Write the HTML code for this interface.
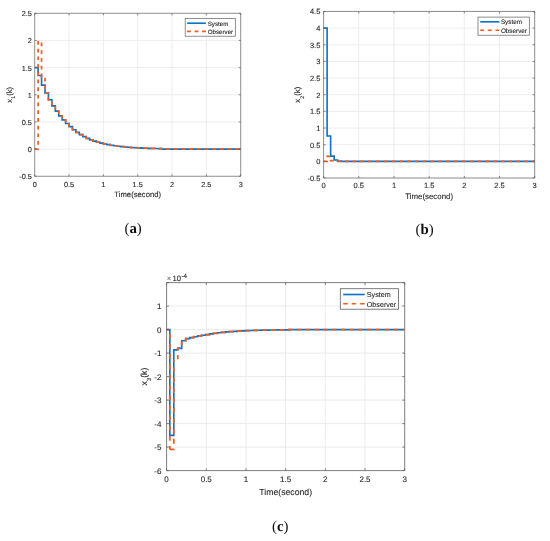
<!DOCTYPE html>
<html><head><meta charset="utf-8"><title>Figure</title>
<style>html,body{margin:0;padding:0;background:#fff}svg{display:block}.sans text{stroke:#262626;stroke-width:0.1px;paint-order:stroke}</style>
</head><body>
<svg width="550" height="541" viewBox="0 0 550 541" font-family="'Liberation Sans', sans-serif" text-rendering="geometricPrecision">
<defs><filter id="bl" x="0" y="0" width="550" height="541" filterUnits="userSpaceOnUse"><feGaussianBlur stdDeviation="0.4"/></filter></defs>
<rect width="550" height="541" fill="#fff"/>
<g filter="url(#bl)">
<g class="sans">
<path d="M69.03 13.3V176.25M103.37 13.3V176.25M137.7 13.3V176.25M172.03 13.3V176.25M206.37 13.3V176.25M34.7 149.09H240.7M34.7 121.93H240.7M34.7 94.78H240.7M34.7 67.62H240.7M34.7 40.46H240.7" stroke="#e9e9e9" stroke-width="0.8" fill="none"/>
<clipPath id="c34"><rect x="33.7" y="13.3" width="208" height="162.95"/></clipPath>
<g clip-path="url(#c34)" fill="none" stroke-linejoin="miter">
<path d="M34.7 67.62H38.13V75.49H41.57V85.16H45V92.87H48.43V99.79H51.87V105.85H55.3V111.17H58.73V115.84H62.17V119.93H65.6V123.51H69.03V126.66H72.47V129.73H75.9V132.38H79.33V134.67H82.77V136.65H86.2V138.35H89.63V139.82H93.07V141.09H96.5V142.19H99.93V143.14H103.37V143.95H106.8V144.66H110.23V145.26H113.67V145.79H117.1V146.24H120.53V146.63H123.97V146.97H127.4V147.26H130.83V147.51H134.27V147.73H137.7V147.91H141.13V148.08H144.57V148.21H148V148.33H151.43V148.44H154.87V148.53H158.3V148.61H161.73V149.09H165.17V149.09H168.6V149.09H172.03V149.09H175.47V149.09H178.9V149.09H182.33V149.09H185.77V149.09H189.2V149.09H192.63V149.09H196.07V149.09H199.5V149.09H202.93V149.09H206.37V149.09H209.8V149.09H213.23V149.09H216.67V149.09H220.1V149.09H223.53V149.09H226.97V149.09H230.4V149.09H233.83V149.09H237.27V149.09H240.7V149.09" stroke="#0873C4" stroke-width="1.62"/>
<path d="M34.7 149.09H38.13V41.54H41.57V76.85H45V92.87H48.43V99.79H51.87V105.85H55.3V111.17H58.73V115.84H62.17V119.93H65.6V123.51H69.03V126.66H72.47V129.73H75.9V132.38H79.33V134.67H82.77V136.65H86.2V138.35H89.63V139.82H93.07V141.09H96.5V142.19H99.93V143.14H103.37V143.95H106.8V144.66H110.23V145.26H113.67V145.79H117.1V146.24H120.53V146.63H123.97V146.97H127.4V147.26H130.83V147.51H134.27V147.73H137.7V147.91H141.13V148.08H144.57V148.21H148V148.33H151.43V148.44H154.87V148.53H158.3V148.61H161.73V149.09H165.17V149.09H168.6V149.09H172.03V149.09H175.47V149.09H178.9V149.09H182.33V149.09H185.77V149.09H189.2V149.09H192.63V149.09H196.07V149.09H199.5V149.09H202.93V149.09H206.37V149.09H209.8V149.09H213.23V149.09H216.67V149.09H220.1V149.09H223.53V149.09H226.97V149.09H230.4V149.09H233.83V149.09H237.27V149.09H240.7V149.09" stroke="#FA5A1A" stroke-width="1.74" stroke-dasharray="3.7 4" stroke-dashoffset="0"/>
</g>
<path d="M34.7 13.3H240.7V176.25H34.7ZM34.7 176.25v-2M34.7 13.3v2M69.03 176.25v-2M69.03 13.3v2M103.37 176.25v-2M103.37 13.3v2M137.7 176.25v-2M137.7 13.3v2M172.03 176.25v-2M172.03 13.3v2M206.37 176.25v-2M206.37 13.3v2M240.7 176.25v-2M240.7 13.3v2M34.7 176.25h2M240.7 176.25h-2M34.7 149.09h2M240.7 149.09h-2M34.7 121.93h2M240.7 121.93h-2M34.7 94.78h2M240.7 94.78h-2M34.7 67.62h2M240.7 67.62h-2M34.7 40.46h2M240.7 40.46h-2M34.7 13.3h2M240.7 13.3h-2" stroke="#606060" stroke-width="0.7" fill="none"/>
<g font-size="7.3" fill="#262626">
<text x="34.7" y="186.81" text-anchor="middle">0</text>
<text x="69.03" y="186.81" text-anchor="middle">0.5</text>
<text x="103.37" y="186.81" text-anchor="middle">1</text>
<text x="137.7" y="186.81" text-anchor="middle">1.5</text>
<text x="172.03" y="186.81" text-anchor="middle">2</text>
<text x="206.37" y="186.81" text-anchor="middle">2.5</text>
<text x="240.7" y="186.81" text-anchor="middle">3</text>
<text x="31.9" y="179.23" text-anchor="end">-0.5</text>
<text x="31.9" y="152.07" text-anchor="end">0</text>
<text x="31.9" y="124.91" text-anchor="end">0.5</text>
<text x="31.9" y="97.75" text-anchor="end">1</text>
<text x="31.9" y="70.59" text-anchor="end">1.5</text>
<text x="31.9" y="43.44" text-anchor="end">2</text>
<text x="31.9" y="16.28" text-anchor="end">2.5</text>
</g>
<text x="137.7" y="197.42" text-anchor="middle" font-size="7.7" fill="#262626">Time(second)</text>
<text transform="translate(11.6 94.78) rotate(-90)" text-anchor="middle" font-size="7.7" fill="#262626">x<tspan font-size="5.24" dy="3.85">1</tspan><tspan dy="-3.85">(k)</tspan></text>
<rect x="185.2" y="18.4" width="50.1" height="17.8" fill="#fff" stroke="#606060" stroke-width="0.7"/>
<path d="M187.1 23.2H205.9" stroke="#0873C4" stroke-width="1.62"/>
<path d="M187.1 31.4H205.9" stroke="#FA5A1A" stroke-width="1.62" stroke-dasharray="3.8 3.7"/>
<text x="207.7" y="25.6" font-size="6.2" fill="#262626">System</text>
<text x="207.7" y="34.4" font-size="6.2" fill="#262626">Observer</text>
<path d="M358.78 11.45V178M393.97 11.45V178M429.15 11.45V178M464.33 11.45V178M499.52 11.45V178M323.6 161.34H534.7M323.6 144.69H534.7M323.6 128.03H534.7M323.6 111.38H534.7M323.6 94.72H534.7M323.6 78.07H534.7M323.6 61.41H534.7M323.6 44.76H534.7M323.6 28.1H534.7" stroke="#e9e9e9" stroke-width="0.82" fill="none"/>
<clipPath id="c323"><rect x="322.6" y="11.45" width="213.1" height="166.55"/></clipPath>
<g clip-path="url(#c323)" fill="none" stroke-linejoin="miter">
<path d="M323.6 28.1H327.12V136.03H330.64V156.15H334.16V160.01H337.67V161.08H341.19V161.34H344.71V161.34H348.23V161.34H351.75V161.34H355.27V161.34H358.78V161.34H362.3V161.34H365.82V161.34H369.34V161.34H372.86V161.34H376.38V161.34H379.89V161.34H383.41V161.34H386.93V161.34H390.45V161.34H393.97V161.34H397.49V161.34H401V161.34H404.52V161.34H408.04V161.34H411.56V161.34H415.08V161.34H418.6V161.34H422.11V161.34H425.63V161.34H429.15V161.34H432.67V161.34H436.19V161.34H439.71V161.34H443.22V161.34H446.74V161.34H450.26V161.34H453.78V161.34H457.3V161.34H460.82V161.34H464.33V161.34H467.85V161.34H471.37V161.34H474.89V161.34H478.41V161.34H481.93V161.34H485.44V161.34H488.96V161.34H492.48V161.34H496V161.34H499.52V161.34H503.04V161.34H506.55V161.34H510.07V161.34H513.59V161.34H517.11V161.34H520.63V161.34H524.15V161.34H527.66V161.34H531.18V161.34H534.7V161.34" stroke="#0873C4" stroke-width="1.62"/>
<path d="M323.6 161.34H327.12V156.35H330.64V160.68H334.16V161.18H337.67V161.34H341.19V161.34H344.71V161.34H348.23V161.34H351.75V161.34H355.27V161.34H358.78V161.34H362.3V161.34H365.82V161.34H369.34V161.34H372.86V161.34H376.38V161.34H379.89V161.34H383.41V161.34H386.93V161.34H390.45V161.34H393.97V161.34H397.49V161.34H401V161.34H404.52V161.34H408.04V161.34H411.56V161.34H415.08V161.34H418.6V161.34H422.11V161.34H425.63V161.34H429.15V161.34H432.67V161.34H436.19V161.34H439.71V161.34H443.22V161.34H446.74V161.34H450.26V161.34H453.78V161.34H457.3V161.34H460.82V161.34H464.33V161.34H467.85V161.34H471.37V161.34H474.89V161.34H478.41V161.34H481.93V161.34H485.44V161.34H488.96V161.34H492.48V161.34H496V161.34H499.52V161.34H503.04V161.34H506.55V161.34H510.07V161.34H513.59V161.34H517.11V161.34H520.63V161.34H524.15V161.34H527.66V161.34H531.18V161.34H534.7V161.34" stroke="#FA5A1A" stroke-width="1.74" stroke-dasharray="3.8 4" stroke-dashoffset="0"/>
</g>
<path d="M323.6 11.45H534.7V178H323.6ZM323.6 178v-2.05M323.6 11.45v2.05M358.78 178v-2.05M358.78 11.45v2.05M393.97 178v-2.05M393.97 11.45v2.05M429.15 178v-2.05M429.15 11.45v2.05M464.33 178v-2.05M464.33 11.45v2.05M499.52 178v-2.05M499.52 11.45v2.05M534.7 178v-2.05M534.7 11.45v2.05M323.6 178h2.05M534.7 178h-2.05M323.6 161.34h2.05M534.7 161.34h-2.05M323.6 144.69h2.05M534.7 144.69h-2.05M323.6 128.03h2.05M534.7 128.03h-2.05M323.6 111.38h2.05M534.7 111.38h-2.05M323.6 94.72h2.05M534.7 94.72h-2.05M323.6 78.07h2.05M534.7 78.07h-2.05M323.6 61.41h2.05M534.7 61.41h-2.05M323.6 44.76h2.05M534.7 44.76h-2.05M323.6 28.1h2.05M534.7 28.1h-2.05M323.6 11.45h2.05M534.7 11.45h-2.05" stroke="#606060" stroke-width="0.72" fill="none"/>
<g font-size="7.48" fill="#262626">
<text x="323.6" y="188.02" text-anchor="middle">0</text>
<text x="358.78" y="188.02" text-anchor="middle">0.5</text>
<text x="393.97" y="188.02" text-anchor="middle">1</text>
<text x="429.15" y="188.02" text-anchor="middle">1.5</text>
<text x="464.33" y="188.02" text-anchor="middle">2</text>
<text x="499.52" y="188.02" text-anchor="middle">2.5</text>
<text x="534.7" y="188.02" text-anchor="middle">3</text>
<text x="320.33" y="181.04" text-anchor="end">-0.5</text>
<text x="320.33" y="164.39" text-anchor="end">0</text>
<text x="320.33" y="147.73" text-anchor="end">0.5</text>
<text x="320.33" y="131.08" text-anchor="end">1</text>
<text x="320.33" y="114.42" text-anchor="end">1.5</text>
<text x="320.33" y="97.77" text-anchor="end">2</text>
<text x="320.33" y="81.11" text-anchor="end">2.5</text>
<text x="320.33" y="64.46" text-anchor="end">3</text>
<text x="320.33" y="47.8" text-anchor="end">3.5</text>
<text x="320.33" y="31.15" text-anchor="end">4</text>
<text x="320.33" y="14.49" text-anchor="end">4.5</text>
</g>
<text x="429.15" y="199.2" text-anchor="middle" font-size="7.89" fill="#262626">Time(second)</text>
<text transform="translate(300.2 94.72) rotate(-90)" text-anchor="middle" font-size="7.89" fill="#262626">x<tspan font-size="5.37" dy="3.95">2</tspan><tspan dy="-3.95">(k)</tspan></text>
<rect x="478" y="17.1" width="51.3" height="18.1" fill="#fff" stroke="#606060" stroke-width="0.72"/>
<path d="M480.2 21.8H499.4" stroke="#0873C4" stroke-width="1.62"/>
<path d="M480.2 30.2H499.4" stroke="#FA5A1A" stroke-width="1.62" stroke-dasharray="3.9 3.75"/>
<text x="500.9" y="24.4" font-size="6.35" fill="#262626">System</text>
<text x="500.9" y="33.2" font-size="6.35" fill="#262626">Observer</text>
<path d="M206.28 282.6V470.6M245.97 282.6V470.6M285.65 282.6V470.6M325.33 282.6V470.6M365.02 282.6V470.6M166.6 447.1H404.7M166.6 423.6H404.7M166.6 400.1H404.7M166.6 376.6H404.7M166.6 353.1H404.7M166.6 329.6H404.7M166.6 306.1H404.7" stroke="#e9e9e9" stroke-width="0.92" fill="none"/>
<clipPath id="c166"><rect x="165.6" y="282.6" width="240.1" height="188"/></clipPath>
<g clip-path="url(#c166)" fill="none" stroke-linejoin="miter">
<path d="M166.6 329.6H169.82V435.35H173.79V349.81H177.75V348.4H181.72V340.76H185.69V338.65H189.66V337.63H193.63V336.73H197.6V335.94H201.56V335.23H205.53V334.6H209.5V333.89H213.47V333.28H217.44V332.76H221.41V332.31H225.38V331.92H229.34V331.59H233.31V331.31H237.28V331.07H241.25V330.86H245.22V330.68H249.19V330.53H253.15V330.4H257.12V330.28H261.09V330.19H265.06V330.1H269.03V330.03H273V329.97H276.96V329.92H280.93V329.87H284.9V329.83H288.87V329.6H292.84V329.6H296.81V329.6H300.77V329.6H304.74V329.6H308.71V329.6H312.68V329.6H316.65V329.6H320.62V329.6H324.58V329.6H328.55V329.6H332.52V329.6H336.49V329.6H340.46V329.6H344.43V329.6H348.39V329.6H352.36V329.6H356.33V329.6H360.3V329.6H364.27V329.6H368.24V329.6H372.2V329.6H376.17V329.6H380.14V329.6H384.11V329.6H388.08V329.6H392.05V329.6H396.01V329.6H399.98V329.6H403.95V329.6" stroke="#0873C4" stroke-width="1.64"/>
<path d="M166.6 329.6H169.82V449.45" stroke="#FA5A1A" stroke-width="1.76" stroke-dasharray="5 5.2" stroke-dashoffset="2.9"/>
<path d="M169.82 449.45H173.79V359.68" stroke="#FA5A1A" stroke-width="1.76" stroke-dasharray="5 5.2" stroke-dashoffset="0.5"/>
<path d="M173.79 359.68H177.75V348.4H181.72V340.76H185.69V338.65H189.66V337.63H193.63V336.73H197.6V335.94H201.56V335.23H205.53V334.6H209.5V333.89H213.47V333.28H217.44V332.76H221.41V332.31H225.38V331.92H229.34V331.59H233.31V331.31H237.28V331.07H241.25V330.86H245.22V330.68H249.19V330.53H253.15V330.4H257.12V330.28H261.09V330.19H265.06V330.1H269.03V330.03H273V329.97H276.96V329.92H280.93V329.87H284.9V329.83H288.87V329.6H292.84V329.6H296.81V329.6H300.77V329.6H304.74V329.6H308.71V329.6H312.68V329.6H316.65V329.6H320.62V329.6H324.58V329.6H328.55V329.6H332.52V329.6H336.49V329.6H340.46V329.6H344.43V329.6H348.39V329.6H352.36V329.6H356.33V329.6H360.3V329.6H364.27V329.6H368.24V329.6H372.2V329.6H376.17V329.6H380.14V329.6H384.11V329.6H388.08V329.6H392.05V329.6H396.01V329.6H399.98V329.6H403.95V329.6" stroke="#FA5A1A" stroke-width="1.76" stroke-dasharray="4.3 4.46" stroke-dashoffset="4.3"/>
</g>
<path d="M166.6 282.6H404.7V470.6H166.6ZM166.6 470.6v-2.31M166.6 282.6v2.31M206.28 470.6v-2.31M206.28 282.6v2.31M245.97 470.6v-2.31M245.97 282.6v2.31M285.65 470.6v-2.31M285.65 282.6v2.31M325.33 470.6v-2.31M325.33 282.6v2.31M365.02 470.6v-2.31M365.02 282.6v2.31M404.7 470.6v-2.31M404.7 282.6v2.31M166.6 470.6h2.31M404.7 470.6h-2.31M166.6 447.1h2.31M404.7 447.1h-2.31M166.6 423.6h2.31M404.7 423.6h-2.31M166.6 400.1h2.31M404.7 400.1h-2.31M166.6 376.6h2.31M404.7 376.6h-2.31M166.6 353.1h2.31M404.7 353.1h-2.31M166.6 329.6h2.31M404.7 329.6h-2.31M166.6 306.1h2.31M404.7 306.1h-2.31M166.6 282.6h2.31M404.7 282.6h-2.31" stroke="#606060" stroke-width="0.81" fill="none"/>
<g font-size="8.03" fill="#262626">
<text x="166.6" y="482.41" text-anchor="middle">0</text>
<text x="206.28" y="482.41" text-anchor="middle">0.5</text>
<text x="245.97" y="482.41" text-anchor="middle">1</text>
<text x="285.65" y="482.41" text-anchor="middle">1.5</text>
<text x="325.33" y="482.41" text-anchor="middle">2</text>
<text x="365.02" y="482.41" text-anchor="middle">2.5</text>
<text x="404.7" y="482.41" text-anchor="middle">3</text>
<text x="161.46" y="473.84" text-anchor="end">-6</text>
<text x="161.46" y="450.34" text-anchor="end">-5</text>
<text x="161.46" y="426.84" text-anchor="end">-4</text>
<text x="161.46" y="403.34" text-anchor="end">-3</text>
<text x="161.46" y="379.84" text-anchor="end">-2</text>
<text x="161.46" y="356.34" text-anchor="end">-1</text>
<text x="161.46" y="332.84" text-anchor="end">0</text>
<text x="161.46" y="309.34" text-anchor="end">1</text>
<text x="161.46" y="285.84" text-anchor="end"></text>
</g>
<text x="285.65" y="495.1" text-anchor="middle" font-size="8.7" fill="#262626">Time(second)</text>
<text transform="translate(147 376.6) rotate(-90)" text-anchor="middle" font-size="8.7" fill="#262626">x<tspan font-size="5.92" dy="4.35">3</tspan><tspan dy="-4.35">(k)</tspan></text>
<text x="166.7" y="280.9" font-size="7.7" fill="#555" style="stroke:none">×</text>
<text x="172.6" y="280.9" font-size="7.7" fill="#262626">10<tspan font-size="6.16" dy="-3.23" dx="0.3">-4</tspan></text>
<rect x="340.3" y="288.7" width="58.2" height="20.5" fill="#fff" stroke="#606060" stroke-width="0.81"/>
<path d="M343.2 294.5H364.7" stroke="#0873C4" stroke-width="1.64"/>
<path d="M343.2 303.8H364.7" stroke="#FA5A1A" stroke-width="1.64" stroke-dasharray="4.6 3.85"/>
<text x="366.8" y="297.3" font-size="7.17" fill="#262626">System</text>
<text x="366.8" y="307.2" font-size="7.17" fill="#262626">Observer</text>
</g>
<g font-family="'Liberation Serif', serif" font-size="14.8" fill="#111" text-anchor="middle"><text x="133.1" y="232.7">(<tspan font-weight="bold">a</tspan>)</text><text x="424.6" y="234.3">(<tspan font-weight="bold">b</tspan>)</text><text x="280.3" y="530.7">(<tspan font-weight="bold">c</tspan>)</text></g>
</g>
</svg>
</body></html>
